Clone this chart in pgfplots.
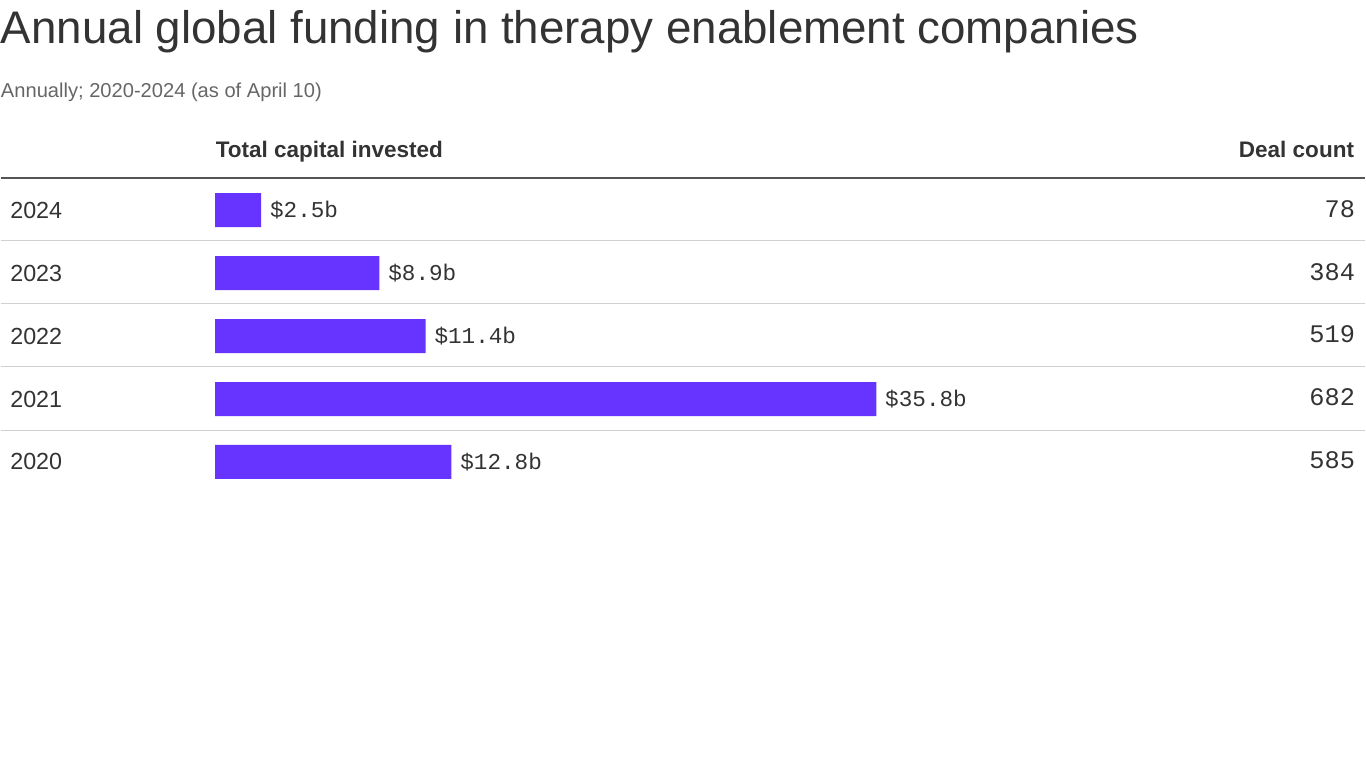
\documentclass[border=0pt]{standalone}
\usepackage{pgfplots}
\pgfplotsset{compat=1.18}
\usepackage{fontspec}
\setmainfont{Liberation Sans}
\newfontfamily\monofont{Liberation Mono}
\definecolor{barc}{HTML}{6633FF}
\definecolor{txt}{HTML}{333333}
\definecolor{subc}{HTML}{666666}
\definecolor{rulec}{HTML}{D0D0D0}
\definecolor{headc}{HTML}{555555}
% 1px of the reference = 0.75pt
\begin{document}
\begin{tikzpicture}
\path (0,0) rectangle (1024.5pt,576pt);
\begin{axis}[
    at={(0,0)}, anchor=south west,
    width=1024.5pt, height=576pt, scale only axis,
    xmin=-11.6, xmax=62.27,
    ymin=-4.85, ymax=7.34,
    axis lines=left,
    axis line style={draw=none},
    xtick=\empty,
    xbar, bar width=0.54, bar shift=0pt,
    ytick={0,1,2,3,4},
    yticklabels={2020,2021,2022,2023,2024},
    yticklabel style={anchor=west, inner sep=0pt, xshift=7pt, font=\fontsize{17.5}{19}\selectfont, text=txt},
    major tick length=0pt,
    clip=false,
    point meta=x,
    nodes near coords={\monofont\$\pgfmathprintnumber[fixed,precision=1,fixed zerofill,assume math mode=true]{\pgfplotspointmeta}b},
    nodes near coords style={anchor=west, inner sep=0pt, xshift=6.5pt, font=\fontsize{17}{18}\selectfont, text=txt},
]
\addplot[fill=barc, draw=none] coordinates {
    (12.8,0)
    (35.8,1)
    (11.4,2)
    (8.9,3)
    (2.5,4)
};
% title and subtitle
\node[anchor=base west, inner sep=0pt, text=txt, font=\fontsize{34.3}{38}\selectfont]
    at (rel axis cs:0,{1-44/768}) {Annual global funding in therapy enablement companies};
\node[anchor=base west, inner sep=0pt, text=subc, font=\fontsize{15.1}{17}\selectfont]
    at (rel axis cs:0,{1-98/768}) {Annually; 2020-2024 (as of April 10)};
% column headers
\node[anchor=base west, inner sep=0pt, text=txt, font=\fontsize{16.9}{18}\selectfont\bfseries]
    at (rel axis cs:{215/1366},{1-158/768}) {Total capital invested};
\node[anchor=base east, inner sep=0pt, text=txt, font=\fontsize{16.9}{18}\selectfont\bfseries]
    at (rel axis cs:{1355/1366},{1-158/768}) {Deal count};
% rules
\draw[headc, line width=1.1pt] (rel axis cs:0,{1-178/768}) -- (rel axis cs:1,{1-178/768});
\draw[rulec, line width=1.1pt] (rel axis cs:0,{1-241/768}) -- (rel axis cs:1,{1-241/768});
\draw[rulec, line width=1.1pt] (rel axis cs:0,{1-304/768}) -- (rel axis cs:1,{1-304/768});
\draw[rulec, line width=1.1pt] (rel axis cs:0,{1-367/768}) -- (rel axis cs:1,{1-367/768});
\draw[rulec, line width=1.1pt] (rel axis cs:0,{1-431/768}) -- (rel axis cs:1,{1-431/768});
% deal counts
\node[anchor=east, inner sep=0pt, text=txt, font=\fontsize{19}{20}\selectfont\monofont] at (rel axis cs:{1356/1366},{1-461/768}) {585};
\node[anchor=east, inner sep=0pt, text=txt, font=\fontsize{19}{20}\selectfont\monofont] at (rel axis cs:{1356/1366},{1-398/768}) {682};
\node[anchor=east, inner sep=0pt, text=txt, font=\fontsize{19}{20}\selectfont\monofont] at (rel axis cs:{1356/1366},{1-335/768}) {519};
\node[anchor=east, inner sep=0pt, text=txt, font=\fontsize{19}{20}\selectfont\monofont] at (rel axis cs:{1356/1366},{1-272/768}) {384};
\node[anchor=east, inner sep=0pt, text=txt, font=\fontsize{19}{20}\selectfont\monofont] at (rel axis cs:{1356/1366},{1-209/768}) {78};
\end{axis}
\end{tikzpicture}
\end{document}
